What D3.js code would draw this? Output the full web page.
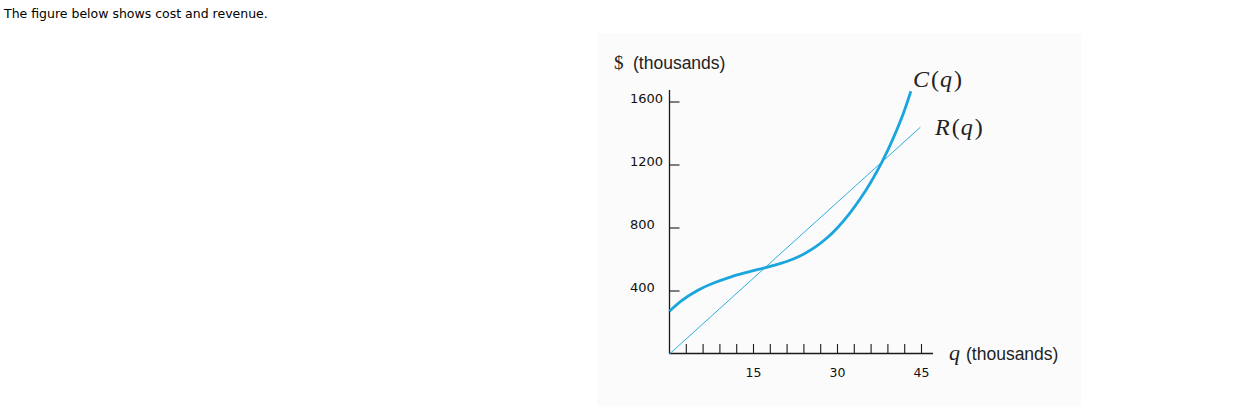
<!DOCTYPE html>
<html>
<head>
<meta charset="utf-8">
<script src="https://cdn.jsdelivr.net/npm/d3@7"></script>
<style>
  body { margin: 0; background: #fff; }
  svg { display: block; }
</style>
</head>
<body>
<div id="visualization"></div>
<script>
const width = 1248;
const height = 413;

// values, $ thousands against q thousands
const costQ = [0, 2, 5, 8, 11, 14, 17, 20, 22, 24, 26, 28, 30, 32, 34, 36, 38, 40, 42, 43.1];
const costValues = [272, 334, 403, 452, 490, 520, 547, 577, 602, 635, 678, 733, 802, 885, 982, 1094, 1223, 1374, 1551, 1668];
const revenueQ = [0, 44.8];
const revenueValues = [0, 1440];
const xTicks = [3, 6, 9, 12, 15, 18, 21, 24, 27, 30, 33, 36, 39, 42, 45];
const xTickLabels = [15, 30, 45];
const yTicks = [400, 800, 1200, 1600];

const blue = "#1aa6dd";

const svg = d3.select("#visualization").append("svg")
    .attr("width", width)
    .attr("height", height);

svg.append("text")
    .attr("x", 4)
    .attr("y", 18)
    .style("font-family", "Verdana, 'DejaVu Sans', sans-serif")
    .style("font-size", "12.5px")
    .attr("fill", "#000")
    .text("The figure below shows cost and revenue.");

// pale panel behind the figure
svg.append("rect")
    .attr("x", 597)
    .attr("y", 33)
    .attr("width", 484)
    .attr("height", 373)
    .attr("fill", "#fbfbfb");

const x = d3.scaleLinear().domain([0, 45]).range([669.5, 921.5]);
const y = d3.scaleLinear().domain([0, 1600]).range([354, 102]);

const axisColor = "#1a1a1a";
const g = svg.append("g");

// axes lines
g.append("line")
    .attr("x1", x(0)).attr("x2", x(0))
    .attr("y1", 90).attr("y2", 353.5)
    .attr("stroke", axisColor).attr("stroke-width", 1.3);

g.append("line")
    .attr("x1", x(0)).attr("x2", 933)
    .attr("y1", 353.5).attr("y2", 353.5)
    .attr("stroke", axisColor).attr("stroke-width", 1.3);

g.selectAll(".xtick")
    .data(xTicks)
    .enter().append("line")
    .attr("class", "xtick")
    .attr("x1", d => x(d)).attr("x2", d => x(d))
    .attr("y1", 353.5).attr("y2", 344)
    .attr("stroke", axisColor).attr("stroke-width", 1.1);

g.selectAll(".ytick")
    .data(yTicks)
    .enter().append("line")
    .attr("class", "ytick")
    .attr("x1", x(0)).attr("x2", x(0) + 10)
    .attr("y1", d => y(d)).attr("y2", d => y(d))
    .attr("stroke", axisColor).attr("stroke-width", 1.1);

g.selectAll(".xlabel")
    .data(xTickLabels)
    .enter().append("text")
    .attr("class", "xlabel")
    .attr("x", d => x(d))
    .attr("y", 377)
    .attr("text-anchor", "middle")
    .style("font-family", "Verdana, 'DejaVu Sans', sans-serif")
    .style("font-size", "12.5px")
    .attr("fill", "#111")
    .text(d => d);

g.selectAll(".ylabel")
    .data(yTicks)
    .enter().append("text")
    .attr("class", "ylabel")
    .attr("x", 630)
    .attr("y", d => y(d) + 1)
    .style("font-family", "Verdana, 'DejaVu Sans', sans-serif")
    .style("font-size", "13px")
    .attr("fill", "#111")
    .text(d => d);

// axis titles
const yTitle = svg.append("text")
    .attr("x", 614)
    .attr("y", 69)
    .style("font-family", "'Liberation Sans', Arial, sans-serif")
    .style("font-size", "17.5px")
    .attr("fill", "#222");
yTitle.append("tspan").style("font-family", "'Liberation Serif', serif").style("font-size", "19px").text("$");
yTitle.append("tspan").attr("x", 633).text("(thousands)");

const xTitle = svg.append("text")
    .attr("x", 949)
    .attr("y", 360)
    .style("font-family", "'Liberation Sans', Arial, sans-serif")
    .style("font-size", "17.5px")
    .attr("fill", "#222");
xTitle.append("tspan")
    .style("font-family", "'Liberation Serif', serif")
    .style("font-style", "italic")
    .style("font-size", "22px")
    .text("q");
xTitle.append("tspan").attr("dx", 6).text("(thousands)");

// curves
const revenueLine = d3.line()
    .x(d => x(d[0]))
    .y(d => y(d[1]));

const costLine = d3.line()
    .x(d => x(d[0]))
    .y(d => y(d[1]))
    .curve(d3.curveMonotoneX);

const costData = costQ.map((q, i) => [q, costValues[i]]);
const revenueData = revenueQ.map((q, i) => [q, revenueValues[i]]);

svg.append("path")
    .datum(revenueData)
    .attr("d", revenueLine)
    .attr("fill", "none")
    .attr("stroke", "#2eace0")
    .attr("stroke-width", 1);

svg.append("path")
    .datum(costData)
    .attr("d", costLine)
    .attr("fill", "none")
    .attr("stroke", blue)
    .attr("stroke-width", 2.8);

// function names, set like math
function mathLabel(name, lx, ly) {
    const t = svg.append("text")
        .attr("x", lx)
        .attr("y", ly)
        .style("font-family", "'Liberation Serif', 'Times New Roman', serif")
        .style("font-size", "24px")
        .attr("fill", "#222");
    t.append("tspan").style("font-style", "italic").text(name);
    t.append("tspan").attr("dx", 2).text("(");
    t.append("tspan").style("font-style", "italic").attr("dx", 1).text("q");
    t.append("tspan").attr("dx", 2).text(")");
}

mathLabel("C", 913, 87);
mathLabel("R", 935, 135);
</script>
</body>
</html>
